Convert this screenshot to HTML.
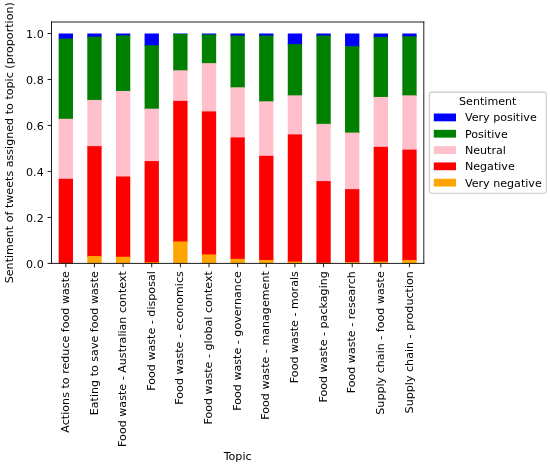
<!DOCTYPE html>
<html><head><meta charset="utf-8"><title>Sentiment chart</title>
<style>html,body{margin:0;padding:0;background:#fff;}body{width:550px;height:466px;overflow:hidden;}svg{display:block;}</style>
</head><body>
<svg width="550" height="466" viewBox="0 0 550 466"><rect width="550" height="466" fill="#fff"/><rect x="58.66" y="33.5" width="14.32" height="6.06" fill="#0000ff"/><rect x="58.66" y="38.55" width="14.32" height="81.24" fill="#008000"/><rect x="58.66" y="118.79" width="14.32" height="61.01" fill="#ffc0cb"/><rect x="58.66" y="178.8" width="14.32" height="84.6" fill="#ff0000"/><rect x="58.66" y="262.94" width="14.32" height="0.46" fill="#ffa500"/><rect x="87.3" y="33.5" width="14.32" height="4.22" fill="#0000ff"/><rect x="87.3" y="36.71" width="14.32" height="64.22" fill="#008000"/><rect x="87.3" y="99.94" width="14.32" height="47.21" fill="#ffc0cb"/><rect x="87.3" y="146.15" width="14.32" height="110.89" fill="#ff0000"/><rect x="87.3" y="256.04" width="14.32" height="7.36" fill="#ffa500"/><rect x="115.94" y="33.5" width="14.32" height="2.84" fill="#0000ff"/><rect x="115.94" y="35.33" width="14.32" height="56.64" fill="#008000"/><rect x="115.94" y="90.97" width="14.32" height="86.52" fill="#ffc0cb"/><rect x="115.94" y="176.5" width="14.32" height="81.24" fill="#ff0000"/><rect x="115.94" y="256.73" width="14.32" height="6.67" fill="#ffa500"/><rect x="144.58" y="33.5" width="14.32" height="12.73" fill="#0000ff"/><rect x="144.58" y="45.22" width="14.32" height="64.45" fill="#008000"/><rect x="144.58" y="108.67" width="14.32" height="53.42" fill="#ffc0cb"/><rect x="144.58" y="161.09" width="14.32" height="102.16" fill="#ff0000"/><rect x="144.58" y="262.25" width="14.32" height="1.15" fill="#ffa500"/><rect x="173.21" y="33.5" width="14.32" height="1.46" fill="#0000ff"/><rect x="173.21" y="33.96" width="14.32" height="37.32" fill="#008000"/><rect x="173.21" y="70.28" width="14.32" height="31.58" fill="#ffc0cb"/><rect x="173.21" y="100.86" width="14.32" height="141.56" fill="#ff0000"/><rect x="173.21" y="241.42" width="14.32" height="21.98" fill="#ffa500"/><rect x="201.85" y="33.5" width="14.32" height="1.92" fill="#0000ff"/><rect x="201.85" y="34.41" width="14.32" height="29.74" fill="#008000"/><rect x="201.85" y="63.15" width="14.32" height="49.28" fill="#ffc0cb"/><rect x="201.85" y="111.43" width="14.32" height="144" fill="#ff0000"/><rect x="201.85" y="254.43" width="14.32" height="8.97" fill="#ffa500"/><rect x="230.49" y="33.5" width="14.32" height="3.07" fill="#0000ff"/><rect x="230.49" y="35.56" width="14.32" height="52.73" fill="#008000"/><rect x="230.49" y="87.29" width="14.32" height="51.12" fill="#ffc0cb"/><rect x="230.49" y="137.41" width="14.32" height="122.39" fill="#ff0000"/><rect x="230.49" y="258.8" width="14.32" height="4.6" fill="#ffa500"/><rect x="259.13" y="33.5" width="14.32" height="3.07" fill="#0000ff"/><rect x="259.13" y="35.56" width="14.32" height="66.75" fill="#008000"/><rect x="259.13" y="101.32" width="14.32" height="55.49" fill="#ffc0cb"/><rect x="259.13" y="155.8" width="14.32" height="105.15" fill="#ff0000"/><rect x="259.13" y="259.95" width="14.32" height="3.45" fill="#ffa500"/><rect x="287.77" y="33.5" width="14.32" height="11.58" fill="#0000ff"/><rect x="287.77" y="44.07" width="14.32" height="52.27" fill="#008000"/><rect x="287.77" y="95.34" width="14.32" height="40.08" fill="#ffc0cb"/><rect x="287.77" y="134.42" width="14.32" height="128.14" fill="#ff0000"/><rect x="287.77" y="261.56" width="14.32" height="1.84" fill="#ffa500"/><rect x="316.41" y="33.5" width="14.32" height="3.07" fill="#0000ff"/><rect x="316.41" y="35.56" width="14.32" height="89.28" fill="#008000"/><rect x="316.41" y="123.85" width="14.32" height="58.25" fill="#ffc0cb"/><rect x="316.41" y="181.09" width="14.32" height="82.31" fill="#ff0000"/><rect x="316.41" y="262.71" width="14.32" height="0.69" fill="#ffa500"/><rect x="345.04" y="33.5" width="14.32" height="13.64" fill="#0000ff"/><rect x="345.04" y="46.14" width="14.32" height="87.44" fill="#008000"/><rect x="345.04" y="132.58" width="14.32" height="57.56" fill="#ffc0cb"/><rect x="345.04" y="189.14" width="14.32" height="73.88" fill="#ff0000"/><rect x="345.04" y="262.02" width="14.32" height="1.38" fill="#ffa500"/><rect x="373.68" y="33.5" width="14.32" height="4.45" fill="#0000ff"/><rect x="373.68" y="36.94" width="14.32" height="61.01" fill="#008000"/><rect x="373.68" y="96.95" width="14.32" height="50.89" fill="#ffc0cb"/><rect x="373.68" y="146.84" width="14.32" height="115.72" fill="#ff0000"/><rect x="373.68" y="261.56" width="14.32" height="1.84" fill="#ffa500"/><rect x="402.32" y="33.5" width="14.32" height="3.76" fill="#0000ff"/><rect x="402.32" y="36.25" width="14.32" height="60.09" fill="#008000"/><rect x="402.32" y="95.34" width="14.32" height="55.26" fill="#ffc0cb"/><rect x="402.32" y="149.6" width="14.32" height="111.35" fill="#ff0000"/><rect x="402.32" y="259.95" width="14.32" height="3.45" fill="#ffa500"/><path d="M65.82 263.4v3.89M94.46 263.4v3.89M123.1 263.4v3.89M151.73 263.4v3.89M180.37 263.4v3.89M209.01 263.4v3.89M237.65 263.4v3.89M266.29 263.4v3.89M294.93 263.4v3.89M323.57 263.4v3.89M352.2 263.4v3.89M380.84 263.4v3.89M409.48 263.4v3.89M51.5 263.4h-3.89M51.5 217.42h-3.89M51.5 171.44h-3.89M51.5 125.46h-3.89M51.5 79.48h-3.89M51.5 33.5h-3.89" stroke="#000" stroke-width="0.89" fill="none"/><path d="M51.5 263.4V22M423.8 263.4V22M51.5 263.4H423.8M51.5 22H423.8" stroke="#000" stroke-width="0.89" stroke-linecap="square" fill="none"/><rect x="429.36" y="92.11" width="116.85" height="101.19" rx="2.22" fill="#fff" fill-opacity="0.8" stroke="#ccc" stroke-width="1.11"/><rect x="433.8" y="113.52" width="22.22" height="7.78" fill="#0000ff"/><rect x="433.8" y="129.83" width="22.22" height="7.78" fill="#008000"/><rect x="433.8" y="146.14" width="22.22" height="7.78" fill="#ffc0cb"/><rect x="433.8" y="162.45" width="22.22" height="7.78" fill="#ff0000"/><rect x="433.8" y="178.76" width="22.22" height="7.78" fill="#ffa500"/><g font-family="'DejaVu Sans', sans-serif" font-size="11.11" fill="#000"><text transform="translate(68.88 271.18) rotate(-90)" text-anchor="end">Actions to reduce food waste</text><text transform="translate(97.52 271.18) rotate(-90)" text-anchor="end">Eating to save food waste</text><text transform="translate(126.16 271.18) rotate(-90)" text-anchor="end">Food waste - Australian context</text><text transform="translate(154.8 271.18) rotate(-90)" text-anchor="end">Food waste - disposal</text><text transform="translate(183.43 271.18) rotate(-90)" text-anchor="end">Food waste - economics</text><text transform="translate(212.07 271.18) rotate(-90)" text-anchor="end">Food waste - global context</text><text transform="translate(240.71 271.18) rotate(-90)" text-anchor="end">Food waste - governance</text><text transform="translate(269.35 271.18) rotate(-90)" text-anchor="end">Food waste - management</text><text transform="translate(297.99 271.18) rotate(-90)" text-anchor="end">Food waste - morals</text><text transform="translate(326.63 271.18) rotate(-90)" text-anchor="end">Food waste - packaging</text><text transform="translate(355.26 271.18) rotate(-90)" text-anchor="end">Food waste - research</text><text transform="translate(383.9 271.18) rotate(-90)" text-anchor="end">Supply chain - food waste</text><text transform="translate(412.54 271.18) rotate(-90)" text-anchor="end">Supply chain - production</text><text x="43.72" y="267.62" text-anchor="end">0.0</text><text x="43.72" y="221.64" text-anchor="end">0.2</text><text x="43.72" y="175.66" text-anchor="end">0.4</text><text x="43.72" y="129.68" text-anchor="end">0.6</text><text x="43.72" y="83.7" text-anchor="end">0.8</text><text x="43.72" y="37.72" text-anchor="end">1.0</text><text x="237.65" y="460.38" text-anchor="middle">Topic</text><text transform="translate(12.8 142.7) rotate(-90)" text-anchor="middle">Sentiment of tweets assigned to topic (proportion)</text><text x="459.06" y="104.99">Sentiment</text><text x="464.91" y="121.3">Very positive</text><text x="464.91" y="137.61">Positive</text><text x="464.91" y="153.92">Neutral</text><text x="464.91" y="170.23">Negative</text><text x="464.91" y="186.54">Very negative</text></g></svg>
</body></html>
